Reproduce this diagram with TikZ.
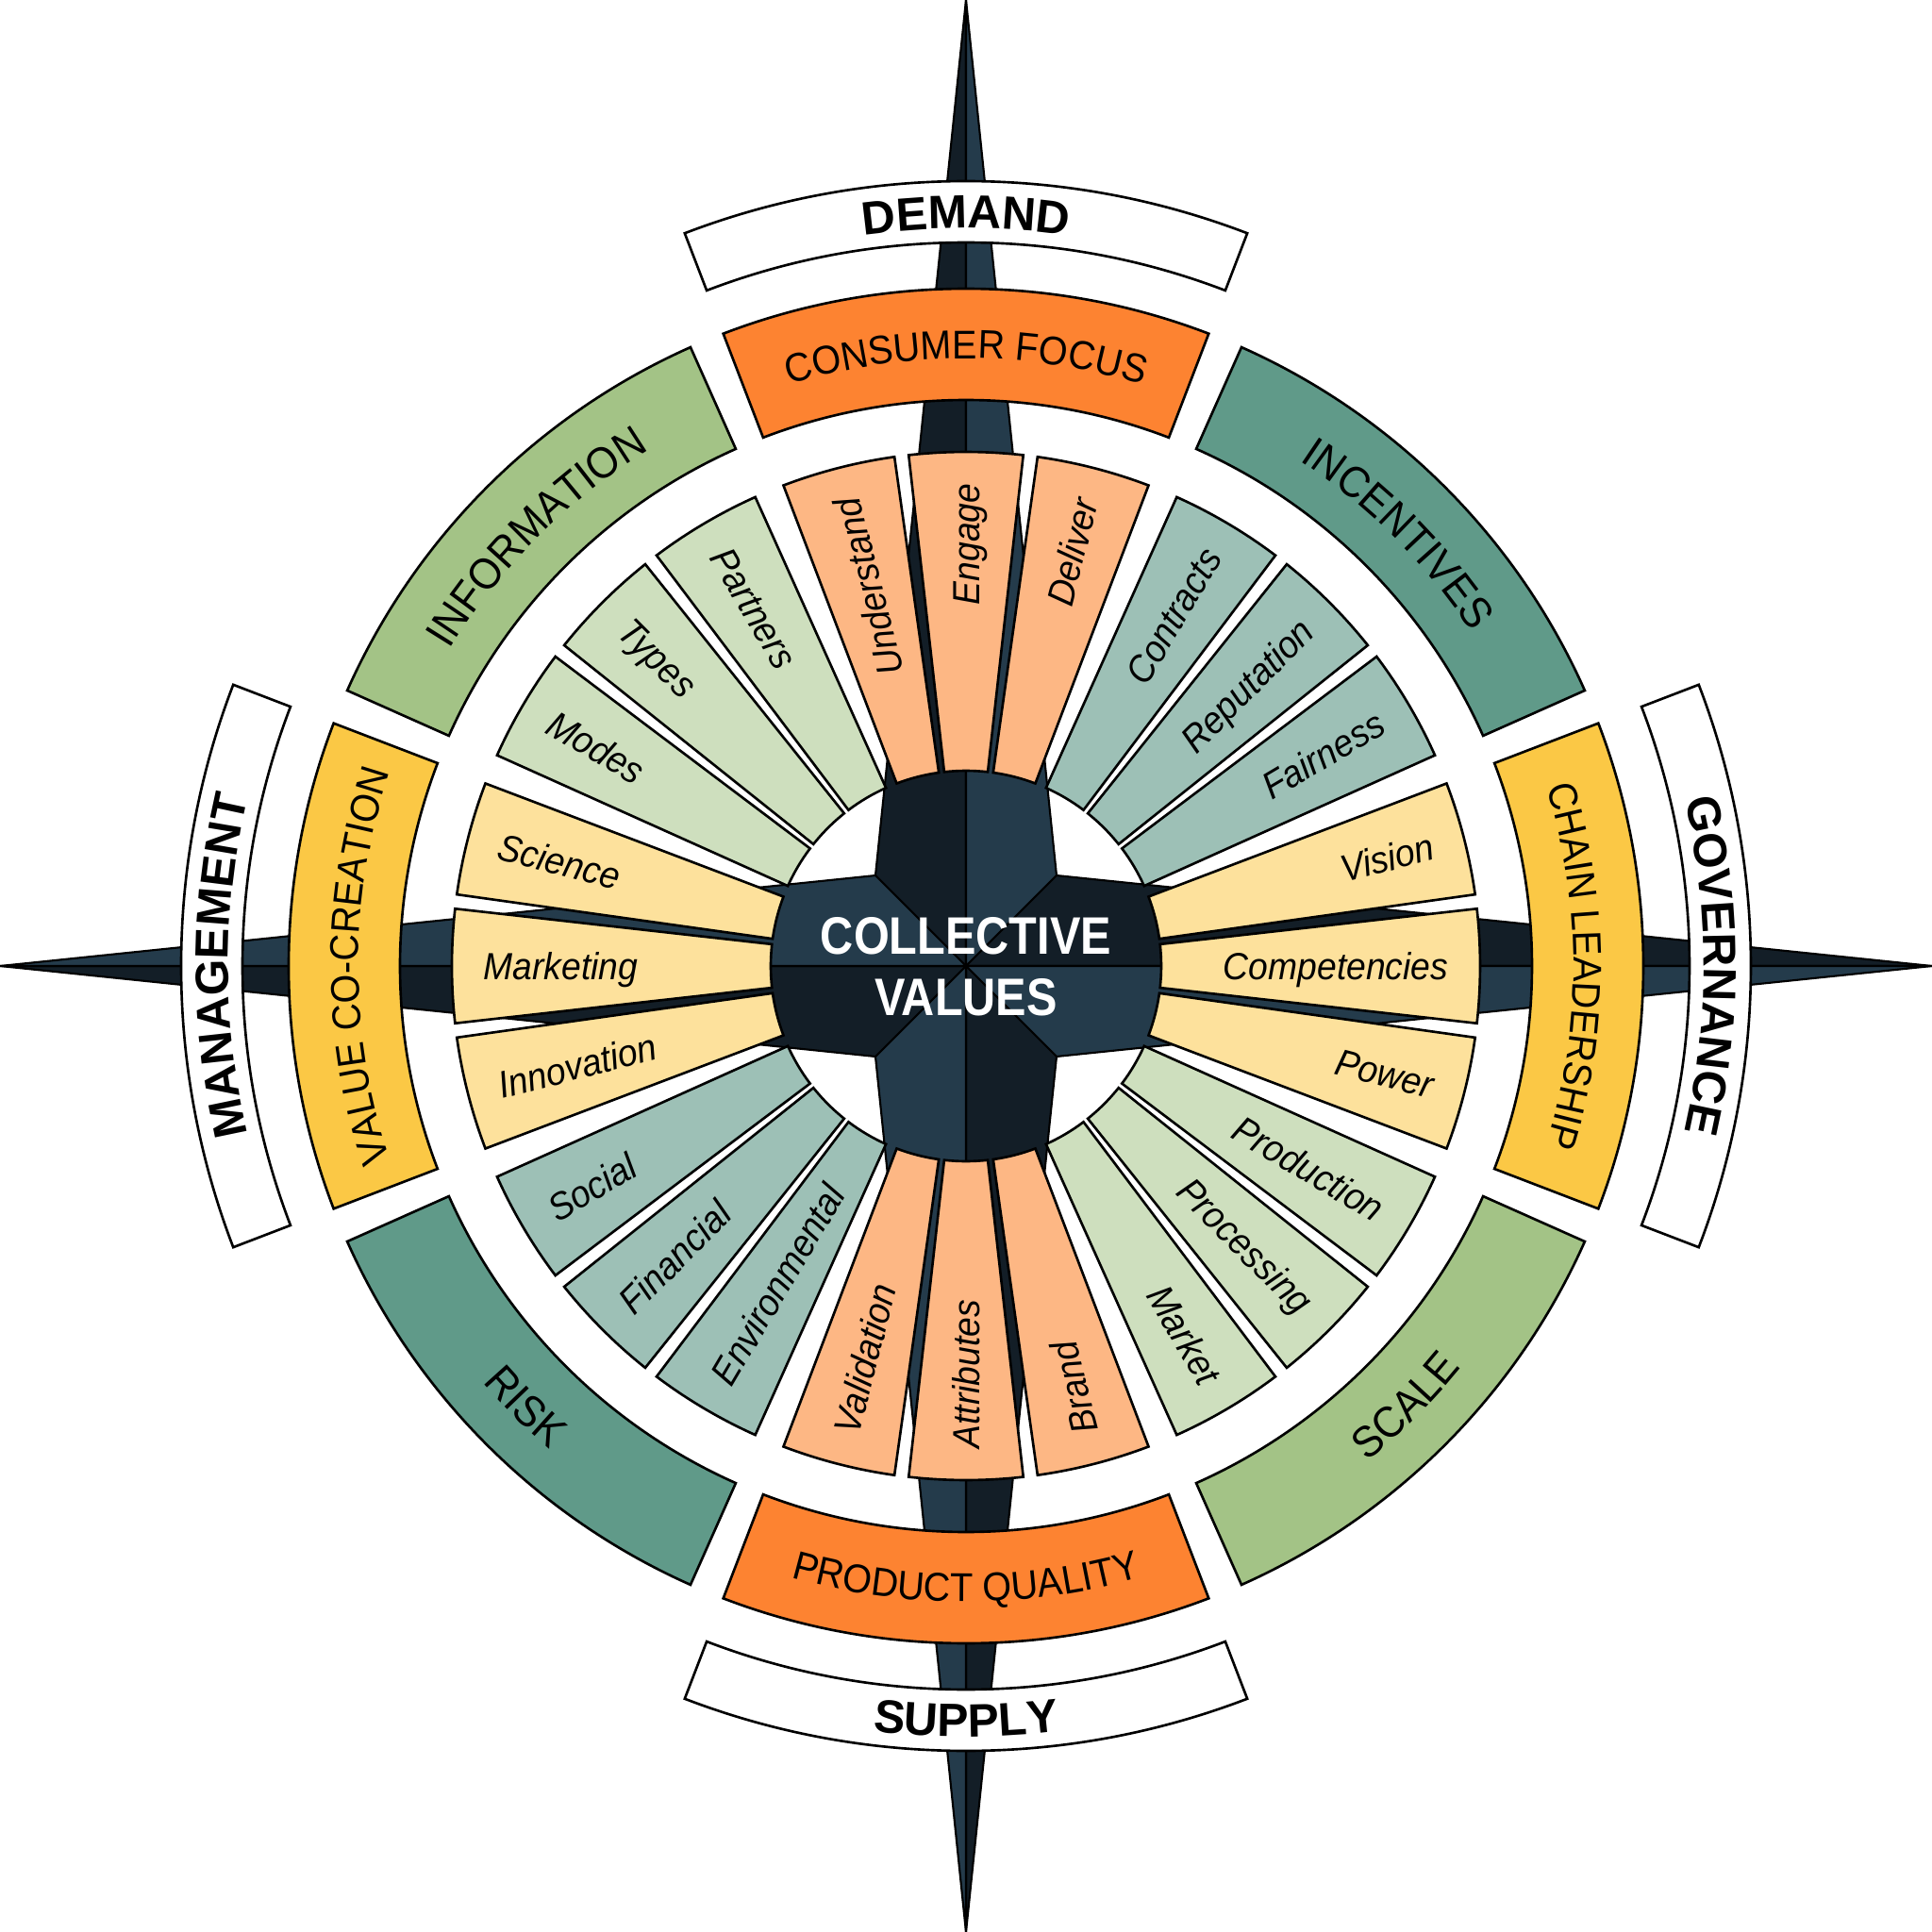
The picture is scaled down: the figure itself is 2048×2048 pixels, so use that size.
\documentclass[tikz,border=0pt]{standalone}
\usepackage{fontspec}
\setmainfont{Liberation Sans}
\newfontfamily\regfont{Liberation Sans}[FakeStretch=0.93]
\newfontfamily\ctrfont{Liberation Sans}[FakeStretch=0.87]
\newfontfamily\outfont{Liberation Sans}
\usetikzlibrary{decorations.text}
\definecolor{stardark}{HTML}{131E27}
\definecolor{starlight}{HTML}{243B4B}
\definecolor{bandorange}{HTML}{FD8331}
\definecolor{bandyellow}{HTML}{FBC845}
\definecolor{bandgreen}{HTML}{A3C386}
\definecolor{bandteal}{HTML}{609A89}
\definecolor{petpeach}{HTML}{FDB784}
\definecolor{petyellow}{HTML}{FDE19C}
\definecolor{petgreen}{HTML}{CEDFBE}
\definecolor{petteal}{HTML}{9DC0B6}
\tikzset{
  ol/.style={draw=black, line width=0.75pt, line join=miter},
  sk/.style={draw=black, line width=0.6pt, line join=round},
  plab/.style={font=\regfont\itshape\fontsize{11.4pt}{13pt}\selectfont, inner sep=0pt, text height=8.1pt, text depth=0pt},
  ctrlab/.style={font=\ctrfont\bfseries\fontsize{15.9pt}{18pt}\selectfont, text=white, inner sep=0pt, anchor=base},
  midlab/.style={decorate, decoration={text along path, text align=center, text={|\regfont\fontsize{12.1pt}{14pt}\selectfont|#1}}},
  diaglab/.style={decorate, decoration={text along path, text align=center, text={|\regfont\fontsize{13.2pt}{15pt}\selectfont|#1}}},
  outlab/.style={decorate, decoration={text along path, text align=center, text={|\outfont\bfseries\fontsize{14.1pt}{16pt}\selectfont|#1}}}
}
\begin{document}
\begin{tikzpicture}[x=0.01cm, y=0.01cm]
\fill[white] (-1024,-1024) rectangle (1024,1024);
\useasboundingbox (-1024,-1024) rectangle (1024,1024);

% ---- compass star ----
\coordinate (O) at (0,0);
\coordinate (tN) at (0,1024);
\coordinate (tE) at (1024,0);
\coordinate (tS) at (0,-1024);
\coordinate (tW) at (-1024,0);
\coordinate (cNE) at (96,96);
\coordinate (cSE) at (96,-96);
\coordinate (cSW) at (-96,-96);
\coordinate (cNW) at (-96,96);
\draw[sk, fill=stardark]  (O) -- (tN) -- (cNW) -- cycle;
\draw[sk, fill=starlight] (O) -- (tN) -- (cNE) -- cycle;
\draw[sk, fill=stardark]  (O) -- (tE) -- (cNE) -- cycle;
\draw[sk, fill=starlight] (O) -- (tE) -- (cSE) -- cycle;
\draw[sk, fill=stardark]  (O) -- (tS) -- (cSE) -- cycle;
\draw[sk, fill=starlight] (O) -- (tS) -- (cSW) -- cycle;
\draw[sk, fill=stardark]  (O) -- (tW) -- (cSW) -- cycle;
\draw[sk, fill=starlight] (O) -- (tW) -- (cNW) -- cycle;

% ---- petals ----
\foreach \g/\c in {90/petpeach, -90/petpeach, 0/petyellow, 180/petyellow, 45/petteal, -135/petteal, 135/petgreen, -45/petgreen} {
  \foreach \o in {-14.4,0,14.4} {
    \pgfmathsetmacro{\a}{\g+\o-6.4}
    \pgfmathsetmacro{\b}{\g+\o+6.4}
    \draw[ol, fill=\c] (\a:207) -- (\a:545) arc[start angle=\a, end angle=\b, radius=545] -- (\b:207) arc[start angle=\b, end angle=\a, radius=207] -- cycle;
  }
}

% ---- middle ring ----
\foreach \g/\c in {90/bandorange, -90/bandorange, 0/bandyellow, 180/bandyellow, 45/bandteal, -135/bandteal, 135/bandgreen, -45/bandgreen} {
  \pgfmathsetmacro{\a}{\g-21}
  \pgfmathsetmacro{\b}{\g+21}
  \draw[ol, fill=\c] (\a:600) -- (\a:718) arc[start angle=\a, end angle=\b, radius=718] -- (\b:600) arc[start angle=\b, end angle=\a, radius=600] -- cycle;
}

% ---- outer white bands ----
\foreach \g in {90,0,-90,180} {
  \pgfmathsetmacro{\a}{\g-21}
  \pgfmathsetmacro{\b}{\g+21}
  \draw[ol, fill=white] (\a:767) -- (\a:832) arc[start angle=\a, end angle=\b, radius=832] -- (\b:767) arc[start angle=\b, end angle=\a, radius=767] -- cycle;
}

% ---- outer labels ----
\path[outlab={DEMAND}] (111:782) arc[start angle=111, end angle=69, radius=782];
\path[outlab={GOVERNANCE}] (21:782) arc[start angle=21, end angle=-21, radius=782];
\path[outlab={MANAGEMENT}] (201:782) arc[start angle=201, end angle=159, radius=782];
\path[outlab={SUPPLY}] (-111:817) arc[start angle=-111, end angle=-69, radius=817];

% ---- middle labels ----
\path[midlab={CONSUMER FOCUS}] (111:644) arc[start angle=111, end angle=69, radius=644];
\path[midlab={CHAIN LEADERSHIP}] (21:644) arc[start angle=21, end angle=-21, radius=644];
\path[midlab={VALUE CO-CREATION}] (201:644) arc[start angle=201, end angle=159, radius=644];
\path[midlab={PRODUCT QUALITY}] (-111:674) arc[start angle=-111, end angle=-69, radius=674];
\path[diaglab={INFORMATION}] (156:642) arc[start angle=156, end angle=114, radius=642];
\path[diaglab={INCENTIVES}] (66:642) arc[start angle=66, end angle=24, radius=642];
\path[diaglab={SCALE}] (-66:676) arc[start angle=-66, end angle=-24, radius=676];
\path[diaglab={RISK}] (-156:676) arc[start angle=-156, end angle=-114, radius=676];

% ---- petal labels (outward reading) ----
\node[plab, rotate=104.4, anchor=east] (pUnd) at (104.4:512) {Understand};
\node[plab, rotate=90, anchor=east] (pEng) at (90:512) {Engage};
\node[plab, rotate=75.6, anchor=east] (pDel) at (75.6:512) {Deliver};
\node[plab, rotate=59.4, anchor=east] (pCon) at (59.4:512) {Contracts};
\node[plab, rotate=45, anchor=east] (pRep) at (45:512) {Reputation};
\node[plab, rotate=30.6, anchor=east] (pFai) at (30.6:512) {Fairness};
\node[plab, rotate=14.4, anchor=east] (pVis) at (14.4:512) {Vision};
\node[plab, rotate=0, anchor=east] (pCom) at (0:512) {Competencies};
\node[plab, rotate=-14.4, anchor=east] (pPow) at (-14.4:512) {Power};
\node[plab, rotate=-30.6, anchor=east] (pPrd) at (-30.6:512) {Production};
\node[plab, rotate=-45, anchor=east] (pPrc) at (-45:512) {Processing};
\node[plab, rotate=-59.4, anchor=east] (pMkt) at (-59.4:512) {Market};
% ---- petal labels (inward reading) ----
\node[plab, rotate=104.4, anchor=west] (pBra) at (-75.6:512) {Brand};
\node[plab, rotate=90, anchor=west] (pAtt) at (-90:512) {Attributes};
\node[plab, rotate=75.6, anchor=west] (pVal) at (-104.4:512) {Validation};
\node[plab, rotate=59.4, anchor=west] (pEnv) at (-120.6:512) {Environmental};
\node[plab, rotate=45, anchor=west] (pFin) at (-135:512) {Financial};
\node[plab, rotate=30.6, anchor=west] (pSoc) at (-149.4:512) {Social};
\node[plab, rotate=14.4, anchor=west] (pInn) at (194.4:512) {Innovation};
\node[plab, rotate=0, anchor=west] (pMar) at (180:512) {Marketing};
\node[plab, rotate=-14.4, anchor=west] (pSci) at (165.6:512) {Science};
\node[plab, rotate=-30.6, anchor=west] (pMod) at (149.4:512) {Modes};
\node[plab, rotate=-45, anchor=west] (pTyp) at (135:512) {Types};
\node[plab, rotate=-59.4, anchor=west] (pPar) at (120.6:512) {Partners};

% ---- centre ----
\node[ctrlab] (cv1) at (0,13) {COLLECTIVE};
\node[ctrlab] (cv2) at (0,-52) {VALUES};
\end{tikzpicture}
\end{document}
